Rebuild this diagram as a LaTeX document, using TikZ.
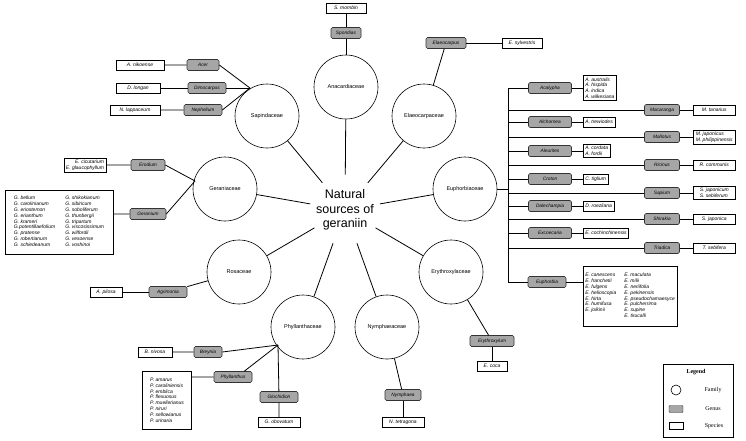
\documentclass[tikz,border=0pt]{standalone}
\usepackage{fontspec}
\setmainfont{Liberation Sans}
\newfontfamily\lserif{Liberation Serif}
\begin{document}
\begin{tikzpicture}[x=1pt,y=-1pt,
 fam/.style={circle,draw,line width=0.6pt,minimum size=64pt,inner sep=0pt,font=\fontsize{5.5}{6}\selectfont},
 gen/.style={rectangle,rounded corners=1.5pt,draw=black!80,fill=black!35,line width=0.6pt,minimum height=11pt,inner sep=2pt,font=\fontsize{4.8}{5.5}\selectfont\itshape},
 spe/.style={rectangle,draw,line width=0.5pt,minimum height=10pt,inner sep=2pt,align=left,font=\fontsize{5}{5.8}\selectfont\itshape},
 ln/.style={line width=0.8pt}]
\useasboundingbox (0,0) rectangle (746,440);
\node[circle,inner sep=0pt,minimum size=64pt,align=center,font=\fontsize{12.5}{14.5}\selectfont] (c) at (345,210) {Natural\\sources of\\geraniin};
\node[fam] (ana) at (346,87) {Anacardiaceae};
\node[fam] (ela) at (424,116) {Elaeocarpaceae};
\node[fam] (sap) at (267,116) {Sapindaceae};
\node[fam] (ger) at (225,189) {Geraniaceae};
\node[fam] (eup) at (465,189) {Euphorbiaceae};
\node[fam] (ros) at (239,272) {Rosaceae};
\node[fam] (ery) at (451,272) {Erythroxylaceae};
\node[fam] (phy) at (303,327) {Phyllanthaceae};
\node[fam] (nym) at (387,327) {Nymphaeaceae};
\foreach \f in {ana,ela,sap,ger,eup,ros,ery,phy,nym} \draw[ln] (c) -- (\f);
% Anacardiaceae
\node[gen,minimum width=30pt] (spo) at (346,33) {Spondias};
\node[spe,minimum width=40pt] (smo) at (346,8) {S. mombin};
\draw[ln] (smo)--(spo); \draw[ln] (spo)--(ana);
% Elaeocarpaceae
\node[gen,minimum width=40pt] (elg) at (446,43) {Elaeocarpus};
\node[spe,minimum width=40pt] (els) at (522,43) {E. sylvestris};
\draw[ln] (elg)--(els); \draw[ln] (elg)--(ela);
% Sapindaceae
\node[gen,minimum width=32pt] (acer) at (203,65) {Acer};
\node[spe,minimum width=48pt] (acs) at (140,65) {A. nikoense};
\node[gen,minimum width=38pt] (dim) at (207,88) {Dimocarpus};
\node[spe,minimum width=44pt] (dis) at (138,88) {D. longan};
\node[gen,minimum width=38pt] (nep) at (203,110) {Nephelium};
\node[spe,minimum width=50pt] (nes) at (135,110) {N. lappaceum};
\coordinate (sapc) at (250,88);
\draw[ln] (acs)--(acer) (acer.east)--(sapc);
\draw[ln] (dis)--(dim) (dim.east)--(sapc);
\draw[ln] (nes)--(nep) (nep.east)--(sapc);
% Geraniaceae
\node[gen,minimum width=34pt] (ero) at (148,165) {Erodium};
\node[spe,align=right] (eros) at (85,165) {E. cicutarium\\E. glaucophyllum};
\node[gen,minimum width=36pt] (gerg) at (148,214) {Geranium};
\node[spe,minimum width=108pt,minimum height=64pt] (gers) at (59,222) {\begin{tabular}{@{}l@{\hspace{10pt}}l@{}}
G. bellum & G. shikokianum\\ G. carolinianum & G. sibiricum\\ G. eriostemon & G. soboliferum\\
G. erianthum & G. thunbergii\\ G. krameri & G. tripartum\\ G.potentillaefolium & G. viscosissimum\\
G. pratense & G. wilfordii\\ G. robertianum & G. vesoense\\ G. schiedeanum & G. voshinoi\end{tabular}};
\coordinate (gerc) at (195,181);
\draw[ln] (eros)--(ero) (ero.east)--(gerc);
\draw[ln] (gers.east|-gerg)--(gerg) (gerg.east)--(gerc);
% Rosaceae
\node[gen,minimum width=38pt] (agr) at (168,292) {Agrimonia};
\node[spe,minimum width=32pt] (agrs) at (106,292) {A. pilosa};
\draw[ln] (agrs)--(agr); \draw[ln] (agr)--(ros);
% Phyllanthaceae
\coordinate (phc) at (278,345);
\node[gen,minimum width=28pt] (bre) at (208,352) {Breynia};
\node[spe,minimum width=34pt] (bres) at (155,352) {B. nivosa};
\node[gen,minimum width=38pt] (phg) at (233,377) {Phyllanthus};
\node[spe,minimum width=49pt,minimum height=58pt] (phs) at (167,400) {P. amarus\\P. caroliniensis\\P. emblica\\P. flexuosus\\P. muellerianus\\P. niruri\\P. sellowianus\\P. urinaria};
\node[gen,minimum width=38pt] (glo) at (279,397) {Glochidion};
\node[spe,minimum width=42pt] (glos) at (279,422) {G. obovatum};
\draw[ln] (bres)--(bre) (bre.east)--(phc);
\draw[ln] (phs.east|-phg)--(phg) (phg.north east)++(-8,0)--(phc);
\draw[ln] (glos)--(glo) (glo)--(phc);
% Nymphaeaceae
\node[gen,minimum width=36pt] (nyg) at (403,395) {Nymphaea};
\node[spe,minimum width=42pt] (nys) at (403,422) {N. tetragona};
\draw[ln] (nym)--(nyg); \draw[ln] (nyg)--(nys);
% Erythroxylaceae
\node[gen,minimum width=44pt] (eyg) at (492,341) {Erythroxylum};
\node[spe,minimum width=30pt] (eys) at (492,366) {E. coca};
\draw[ln] (ery)--(eyg); \draw[ln] (eyg)--(eys);
% Euphorbiaceae
\coordinate (tt) at (508,88); \coordinate (tb) at (508,282);
\draw[ln] (eup.east)--(508,189);
\draw[ln] (tt)--(tb);
\foreach \n/\y/\g/\s [count=\i] in {
 aca/88/Acalypha/{A. australis\\A. hispida\\A. indica\\A. wilkesiana},
 alc/122/Alchornea/{A. trewiodes},
 ale/151/Aleurites/{A. cordata\\A. fordii},
 cro/179/Croton/{C. tiglium},
 dal/206/Dalechampia/{D. roezliana},
 exc/233/Excoecaria/{E. cochinchinensis}}{
 \node[gen,minimum width=43pt] (g\n) at (550,\y) {\g};
 \node[spe,anchor=west] (s\n) at (583,\y) {\s};
 \draw[ln] (508,\y)--(g\n) (g\n)--(s\n);}
\foreach \n/\y/\g/\s in {
 mac/110/Macaranga/{M. tanarius},
 mal/137/Mallotus/{M. japonicus\\M. philippinensis},
 ric/165/Ricinus/{R. communis},
 sap2/193/Sapium/{S. japonicum\\S. sebiferum},
 shi/219/Shirakia/{S. japonica},
 tri/248/Triadica/{T. sebifera}}{
 \node[gen,minimum width=35pt] (g\n) at (662,\y) {\g};
 \node[spe,anchor=west,minimum width=42pt] (s\n) at (693,\y) {\s};
 \draw[ln] (508,\y)--(g\n) (g\n)--(s\n);}
\node[gen,minimum width=38pt] (geu) at (547,282) {Euphorbia};
\node[spe,anchor=west,minimum height=60pt] (seu) at (583,296) {\begin{tabular}[t]{@{}l@{\hspace{8pt}}l@{}}
E. canescens & E. maculata\\ E. franchetii & E. milii\\ E. fulgens & E. neriifolia\\
E. helioscopia & E. pekinensis\\ E. hirta & E. pseudochamaesyce\\ E. humifusa & E. pulcherrima\\
E. jolkinii & E. supine\\ & E. tirucalli\end{tabular}};
\draw[ln] (tb)--(geu) (geu)--(seu.west|-geu);
% Legend
\node[draw,line width=0.8pt,minimum width=70pt,minimum height=73pt] (leg) at (698,401) {};
\node[font=\lserif\fontsize{6}{7}\selectfont\bfseries] (lt) at (696,372) {Legend};
\node[circle,draw,line width=0.6pt,minimum size=10pt,inner sep=0pt] (lf) at (676,390) {};
\node[font=\lserif\fontsize{6}{7}\selectfont] (lfl) at (713,390) {Family};
\node[rectangle,rounded corners=1pt,draw=black!80,fill=black!35,minimum width=14pt,minimum height=7pt,inner sep=0pt] (lg) at (676,409) {};
\node[font=\lserif\fontsize{6}{7}\selectfont] (lgl) at (713,409) {Genus};
\node[rectangle,draw,minimum width=14pt,minimum height=7pt,inner sep=0pt] (ls) at (676,426) {};
\node[font=\lserif\fontsize{6}{7}\selectfont] (lsl) at (714,426) {Species};
\end{tikzpicture}
\end{document}
